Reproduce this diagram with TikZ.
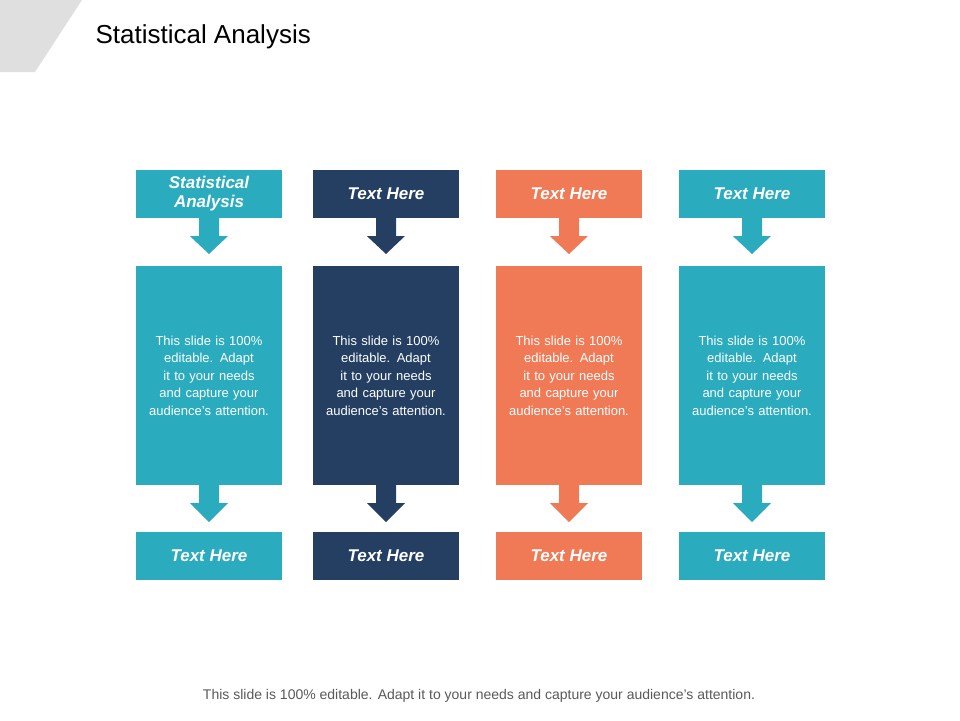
\documentclass[tikz,border=0pt]{standalone}
\usepackage{fontspec}
\setmainfont{Liberation Sans}
\begin{document}
\begin{tikzpicture}[x=1pt,y=-1pt,
  hdr/.style={minimum width=146pt,minimum height=48pt,inner sep=0pt,text=white,align=center,font=\fontsize{17}{19}\selectfont\bfseries\itshape},
  body/.style={minimum width=146pt,minimum height=219pt,inner sep=0pt,text=white,align=center,text width=140pt,font=\fontsize{13}{17.5}\selectfont},
  arr/.style={fill=#1}]
\definecolor{cteal}{HTML}{2AACBE}
\definecolor{cnavy}{HTML}{243F62}
\definecolor{corange}{HTML}{F07A56}
\useasboundingbox (0,0) rectangle (960,720);
\fill[gray!25] (0,0) -- (82,0) -- (35,72) -- (0,72) -- cycle;
\node[anchor=west,font=\fontsize{26}{30}\selectfont] (title) at (92,37) {Statistical Analysis};
\node[text=gray!70!black,font=\fontsize{14}{16}\selectfont] (foot) at (479,696) {This slide is 100\% editable. Adapt it to your needs and capture your audience's attention.};
\foreach \x/\c/\t/\n in {209/cteal/{Statistical\\Analysis}/1,386/cnavy/Text Here/2,569/corange/Text Here/3,752/cteal/Text Here/4}{
  \node[hdr,fill=\c] (top\n) at (\x,194) {\t};
  \node[body,fill=\c] (mid\n) at (\x,375.5) {This slide is 100\% editable. Adapt it to your needs and capture your audience's attention.};
  \node[hdr,fill=\c] (bot\n) at (\x,556) {Text Here};
  \fill[\c] (top\n.south) ++(-10,0) -- ++(0,18) -- ++(-9,0) -- (\x,254) -- ++(19,-18) -- ++(-9,0) -- ++(0,-18) -- cycle;
  \fill[\c] (mid\n.south) ++(-10,0) -- ++(0,18) -- ++(-9,0) -- (\x,522) -- ++(19,-19) -- ++(-9,0) -- ++(0,-18) -- cycle;
}
\end{tikzpicture}
\end{document}
